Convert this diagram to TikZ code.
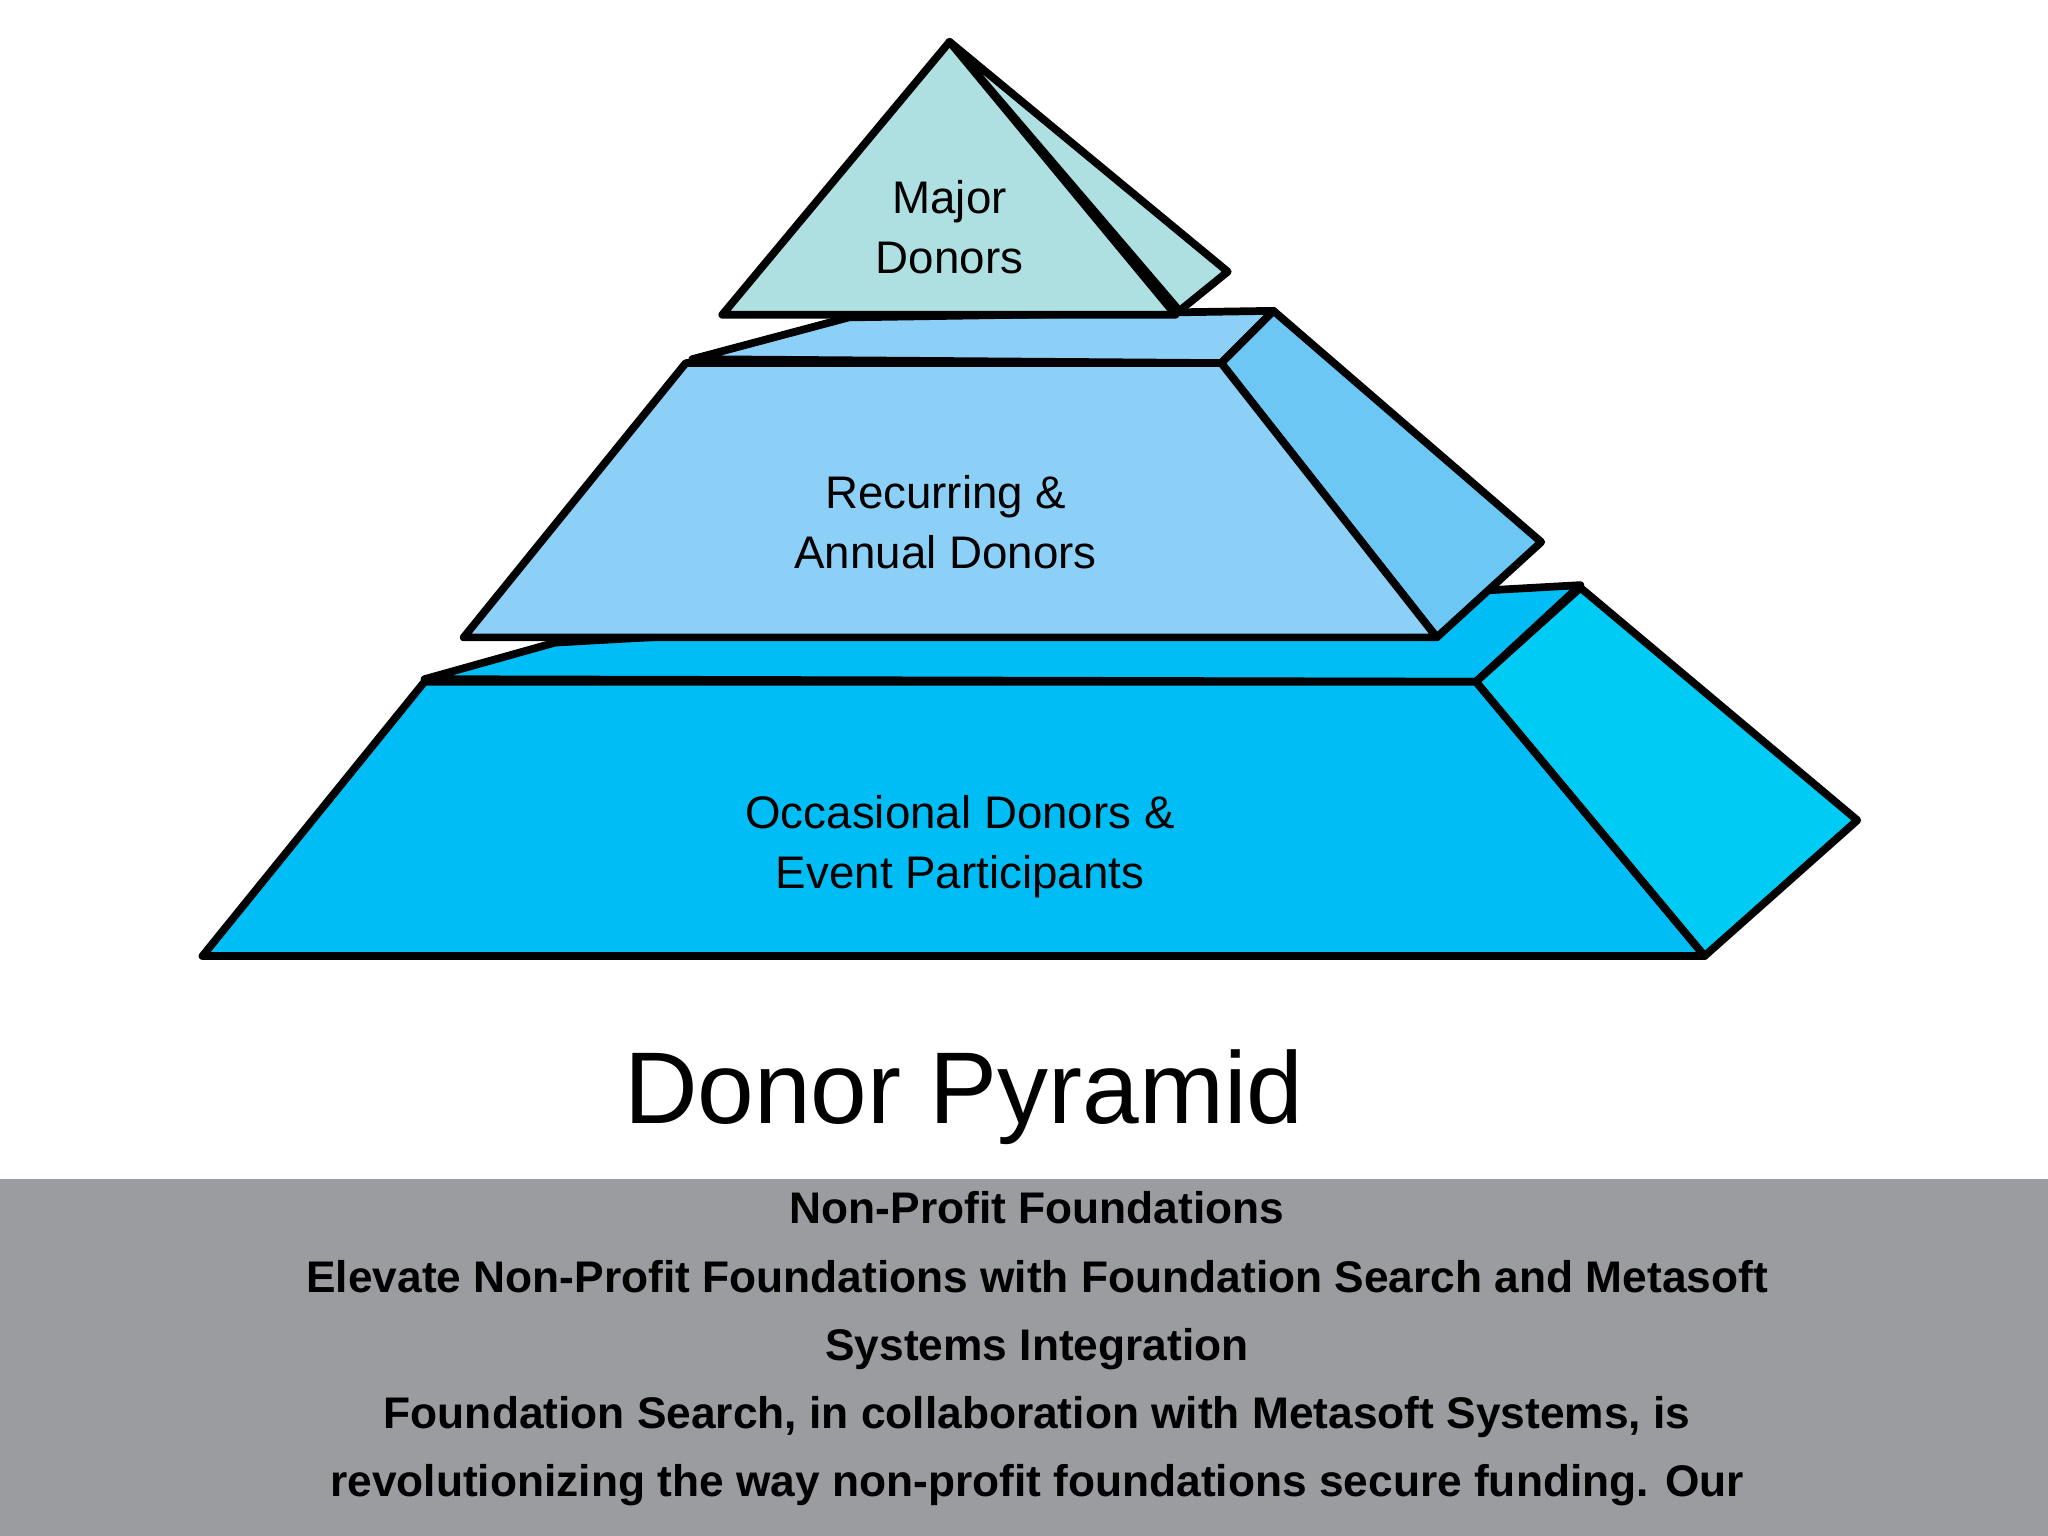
\documentclass[tikz,border=0pt]{standalone}
\usepackage{fontspec}
\setmainfont{Liberation Sans}
\begin{document}
\begin{tikzpicture}[x=0.013061cm,y=-0.013061cm,
  face/.style={draw=black,line width=2.2pt,line join=round},
  lbl/.style={align=center,font=\fontsize{13}{17}\selectfont},
  band/.style={align=center,font=\bfseries\fontsize{12.6}{19.4}\selectfont}]
\useasboundingbox (0,0) rectangle (1568,1176);
\fill[white] (0,0) rectangle (1568,1176);
\definecolor{topf}{HTML}{AEE0E2}
\definecolor{mid}{HTML}{8DD0F7}
\definecolor{midside}{HTML}{6CC7F5}
\definecolor{bot}{HTML}{00BEF5}
\definecolor{botside}{HTML}{00CBF5}
\definecolor{gray}{HTML}{9A9CA0}
% bottom tier
\filldraw[face,fill=bot] (325,520)--(425,492)--(1210,448)--(1130,522)--cycle;
\filldraw[face,fill=botside] (1130,522)--(1210,450)--(1422,628)--(1305,732)--cycle;
\filldraw[face,fill=bot] (325,522)--(1130,522)--(1305,732)--(155,732)--cycle;
\node[lbl] (b) at (735,648) {Occasional Donors \&\\Event Participants};
% middle tier
\filldraw[face,fill=mid] (530,275)--(650,243)--(975,238)--(935,278)--cycle;
\filldraw[face,fill=midside] (935,278)--(975,238)--(1180,415)--(1100,488)--cycle;
\filldraw[face,fill=mid] (525,278)--(935,278)--(1100,488)--(355,488)--cycle;
\node[lbl] (m) at (724,400) {Recurring \&\\Annual Donors};
% top
\filldraw[face,fill=topf] (727,32)--(940,208)--(903,238)--cycle;
\filldraw[face,fill=topf] (727,32)--(900,241)--(553,241)--cycle;
\node[lbl] (t) at (727,174) {Major\\Donors};
\node[font=\fontsize{29}{34}\selectfont] (title) at (738,840) {Donor Pyramid};
\fill[gray] (0,903) rectangle (1568,1176);
\node[band,anchor=north] (txt) at (794,903) {Non-Profit Foundations\\
Elevate Non-Profit Foundations with Foundation Search and Metasoft\\
Systems Integration\\
Foundation Search, in collaboration with Metasoft Systems, is\\
revolutionizing the way non-profit foundations secure funding. Our};
\end{tikzpicture}
\end{document}
